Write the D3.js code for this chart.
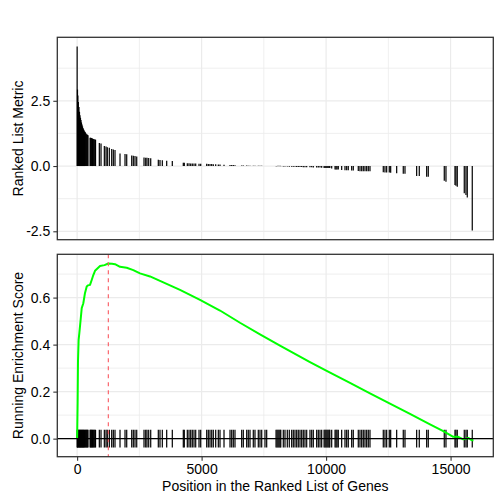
<!DOCTYPE html>
<html>
<head>
<meta charset="utf-8">
<script src="https://cdn.jsdelivr.net/npm/d3@7"></script>
<style>
  body { margin: 0; background: #fff; }
  text { font-family: "Liberation Sans", Arial, sans-serif; }
</style>
</head>
<body>
<script>
// Données
const geneCount = 15920;

// Positions des gènes du set dans la liste classée
const hitRanks = [
  1, 15, 30, 50, 75, 95, 115, 135, 155, 175, 197, 217, 237, 257, 277, 300, 331, 357, 384, 410, 438,
  520, 545, 570, 595, 620, 650, 680, 710, 740,
  892, 960, 1093, 1161, 1213, 1293, 1389, 1454, 1522, 1723, 1924, 1992, 2193, 2257, 2325, 2394, 2687, 2755, 2807, 2875, 2956, 3261, 3329, 3422, 3598, 3823,
  4265, 4305, 4426, 4494, 4562, 4626, 4695, 4763, 4896, 4964, 5205, 5269, 5337, 5406, 5470, 5566, 5671, 5739, 5900, 6141, 6209, 6273, 6341, 6610, 6675, 6811, 6875, 6944, 7076, 7144, 7277,
  7345, 7414, 7546, 7614, 7990, 8030, 8070, 8110, 8150, 8180, 8281, 8349, 8442, 8522, 8618, 8683, 8751, 8819, 8883, 8952, 9020, 9084, 9152, 9221, 9353, 9422, 9486, 9622, 9687, 9755, 9823,
  9920, 9960, 10000, 10040, 10080, 10120, 10150, 10225, 10360, 10400, 10440, 10490, 10626, 10759, 10827, 10891, 11028, 11092, 11293, 11361, 11430, 11494, 11562, 11630, 11695, 11763,
  12297, 12365, 12433, 12538, 12594, 12835, 13100, 13169, 13638, 13743, 14040, 14104, 14747, 14815, 15177, 15216, 15269, 15550, 15618, 15671, 15871
];

// Valeur de la métrique pour chaque gène du set
const hitMetric = [
  4.58, 2.93, 2.70, 2.45, 2.26, 2.08, 1.95, 1.85, 1.76, 1.67, 1.59, 1.52, 1.46, 1.41, 1.37, 1.33, 1.29, 1.25, 1.22, 1.20, 1.18,
  1.08, 1.08, 1.07, 1.06, 1.05, 1.04, 1.03, 1.02, 1.01,
  0.88, 0.86, 0.77, 0.75, 0.72, 0.70, 0.65, 0.63, 0.61, 0.48, 0.46, 0.45, 0.40, 0.39, 0.38, 0.37, 0.33, 0.32, 0.32, 0.31, 0.30, 0.24, 0.23, 0.22, 0.20, 0.19,
  0.13, 0.13, 0.11, 0.11, 0.10, 0.10, 0.10, 0.10, 0.09, 0.09, 0.09, 0.08, 0.08, 0.08, 0.07, 0.07, 0.06, 0.06, 0.05, 0.04, 0.04, 0.04, 0.03, 0.02, 0.02, 0.02, 0.01, 0.01, 0.01, 0.01, 0.01,
  0.01, 0.01, 0.005, 0.005, -0.01, -0.01, 0.01, -0.01, 0.01, -0.01, -0.02, -0.02, -0.02, -0.03, -0.03, -0.03, -0.03, -0.04, -0.04, -0.04, -0.04, -0.05, -0.05, -0.05, -0.05, -0.05, -0.06, -0.06, -0.06, -0.06, -0.07,
  -0.08, -0.08, -0.08, -0.08, -0.08, -0.08, -0.08, -0.09, -0.13, -0.13, -0.13, -0.13, -0.15, -0.16, -0.16, -0.16, -0.17, -0.17, -0.19, -0.20, -0.20, -0.20, -0.20, -0.20, -0.20, -0.20,
  -0.24, -0.25, -0.25, -0.25, -0.26, -0.28, -0.30, -0.30, -0.38, -0.38, -0.41, -0.41, -0.56, -0.60, -0.73, -0.76, -0.79, -1.04, -1.11, -1.21, -2.47
];

// Score d'enrichissement courant
const esRanks = [0, 8, 20, 35, 60, 90, 145, 185, 249, 317, 386, 440, 518, 586, 651, 719, 920, 1100, 1253, 1400, 1522,
  1723, 1992, 2257, 2526, 2928, 3329, 4132, 4936, 5739, 6542, 7345, 8148, 8550, 9353, 10024, 10960, 11763, 12566, 13370,
  14173, 14707, 15108, 15309, 15510, 15711, 15847, 15920];
const esScores = [0, 0.06, 0.15, 0.33, 0.42, 0.45, 0.51, 0.555, 0.576, 0.62, 0.647, 0.652, 0.654, 0.675, 0.696, 0.714, 0.734, 0.738, 0.745, 0.744, 0.742,
  0.731, 0.727, 0.717, 0.703, 0.690, 0.671, 0.633, 0.590, 0.545, 0.493, 0.444, 0.396, 0.372, 0.326, 0.288, 0.237, 0.193, 0.149, 0.105,
  0.061, 0.032, 0.008, 0.008, -0.003, 0.003, -0.006, -0.008];

// Graduations
const xTicks = [0, 5000, 10000, 15000];
const xMinor = [2500, 7500, 12500];
const topTicks = [-2.5, 0, 2.5];
const topMinor = [-1.25, 1.25, 3.75];
const bottomTicks = [0, 0.2, 0.4, 0.6];
const bottomMinor = [0.1, 0.3, 0.5, 0.7];

const hits = hitRanks.map((r, i) => ({ x: r, y: hitMetric[i] }));
const running = esRanks.map((r, i) => ({ x: r, y: esScores[i] }));

// Ajout du svg
const svg = d3.select('body').append('svg').attr('width', 504).attr('height', 504);

const left = 57.3, right = 493.3;
const top1 = 37.3, bot1 = 239.7;
const top2 = 254.3, bot2 = 456.7;

// Expansion de 5% comme ggplot
function expand(lo, hi) {
  const d = (hi - lo) * 0.05;
  return [lo - d, hi + d];
}

const x = d3.scaleLinear().domain(expand(0, geneCount)).range([left, right]);

const metricExt = d3.extent(hitMetric.concat([0]));
const yTop = d3.scaleLinear().domain(expand(metricExt[0], metricExt[1])).range([bot1, top1]);

const esExt = d3.extent(esScores);
const tickHalf = (esExt[1] - esExt[0]) / 20;
const yBot = d3.scaleLinear()
  .domain(expand(Math.min(-tickHalf, esExt[0]), Math.max(tickHalf, esExt[1])))
  .range([bot2, top2]);

// Fond et grille d'un panneau
function grid(yScale, major, minor, y0, y1) {
  const g = svg.append('g');
  g.append('rect').attr('x', left).attr('y', y0).attr('width', right - left).attr('height', y1 - y0).style('fill', '#fff');
  g.selectAll('.vmin').data(xMinor).enter().append('line')
    .attr('x1', d => x(d)).attr('x2', d => x(d)).attr('y1', y0).attr('y2', y1)
    .style('stroke', '#ebebeb').style('stroke-width', 0.8);
  g.selectAll('.hmin').data(minor).enter().append('line')
    .attr('x1', left).attr('x2', right).attr('y1', d => yScale(d)).attr('y2', d => yScale(d))
    .style('stroke', '#ebebeb').style('stroke-width', 0.8);
  g.selectAll('.vmaj').data(xTicks).enter().append('line')
    .attr('x1', d => x(d)).attr('x2', d => x(d)).attr('y1', y0).attr('y2', y1)
    .style('stroke', '#ebebeb').style('stroke-width', 1.2);
  g.selectAll('.hmaj').data(major).enter().append('line')
    .attr('x1', left).attr('x2', right).attr('y1', d => yScale(d)).attr('y2', d => yScale(d))
    .style('stroke', '#ebebeb').style('stroke-width', 1.2);
}

function border(y0, y1) {
  svg.append('rect')
    .attr('x', left).attr('y', y0).attr('width', right - left).attr('height', y1 - y0)
    .style('fill', 'none').style('stroke', '#333').style('stroke-width', 1.3);
}

function styleAxis(g) {
  g.select('.domain').remove();
  g.selectAll('.tick line').style('stroke', '#333').style('stroke-width', 1.1);
  g.selectAll('.tick text').style('font-size', '14px').style('fill', '#000')
    .style('font-family', '"Liberation Sans", Arial, sans-serif');
}

// Panneau du haut : métrique de la liste classée
grid(yTop, topTicks, topMinor, top1, bot1);

svg.append('g').selectAll('line').data(hits).enter().append('line')
  .attr('x1', d => x(d.x)).attr('x2', d => x(d.x))
  .attr('y1', d => yTop(d.y)).attr('y2', yTop(0))
  .style('stroke', '#000').style('stroke-width', 1.2);

border(top1, bot1);

svg.append('g').attr('transform', `translate(${left},0)`)
  .call(d3.axisLeft(yTop).tickValues(topTicks).tickSize(4).tickPadding(3).tickFormat(d => d.toFixed(1)))
  .call(styleAxis);

// Panneau du bas : score d'enrichissement courant
grid(yBot, bottomTicks, bottomMinor, top2, bot2);

svg.append('g').selectAll('line').data(hits).enter().append('line')
  .attr('x1', d => x(d.x)).attr('x2', d => x(d.x))
  .attr('y1', yBot(-tickHalf)).attr('y2', yBot(tickHalf))
  .style('stroke', '#000').style('stroke-width', 1.2);

const line = d3.line().x(d => x(d.x)).y(d => yBot(d.y));
svg.append('path').datum(running)
  .attr('d', line)
  .style('fill', 'none').style('stroke', '#00ff00').style('stroke-width', 2)
  .style('stroke-linejoin', 'round');

// Ligne verticale au maximum du score
const maxRank = esRanks[d3.maxIndex(esScores)];
svg.append('line')
  .attr('x1', x(maxRank)).attr('x2', x(maxRank)).attr('y1', top2).attr('y2', bot2)
  .style('stroke', '#fa5860').style('stroke-width', 1.1).style('stroke-dasharray', '4,4');

svg.append('line')
  .attr('x1', left).attr('x2', right).attr('y1', yBot(0)).attr('y2', yBot(0))
  .style('stroke', '#000').style('stroke-width', 1.2);

border(top2, bot2);

svg.append('g').attr('transform', `translate(${left},0)`)
  .call(d3.axisLeft(yBot).tickValues(bottomTicks).tickSize(4).tickPadding(3).tickFormat(d => d.toFixed(1)))
  .call(styleAxis);

svg.append('g').attr('transform', `translate(0,${bot2})`)
  .call(d3.axisBottom(x).tickValues(xTicks).tickSize(4).tickPadding(3).tickFormat(d3.format('d')))
  .call(styleAxis);

// Titres des axes
svg.append('text')
  .attr('x', (left + right) / 2).attr('y', 490.5)
  .attr('text-anchor', 'middle').attr('font-size', 14).attr('fill', '#000')
  .text('Position in the Ranked List of Genes');

svg.append('text')
  .attr('transform', `translate(23,${(top1 + bot1) / 2}) rotate(-90)`)
  .attr('text-anchor', 'middle').attr('font-size', 14).attr('fill', '#000')
  .text('Ranked List Metric');

svg.append('text')
  .attr('transform', `translate(23,${(top2 + bot2) / 2}) rotate(-90)`)
  .attr('text-anchor', 'middle').attr('font-size', 14).attr('fill', '#000')
  .text('Running Enrichment Score');
</script>
</body>
</html>
